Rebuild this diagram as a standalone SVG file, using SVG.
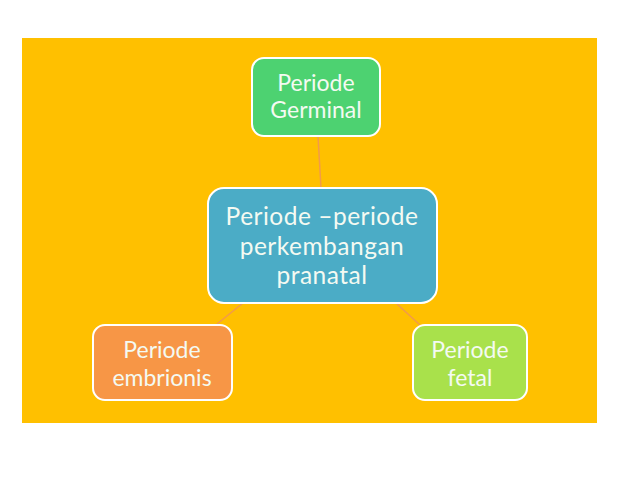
<svg xmlns="http://www.w3.org/2000/svg" width="638" height="478" viewBox="0 0 638 478">
<style>
.node{stroke:#fff;stroke-width:2}
.t{font-family:"Lato","Open Sans","Liberation Sans",sans-serif;fill:#F4FAF2;text-anchor:middle}
.s{font-size:23px}
.b{font-size:24.5px;letter-spacing:0.5px}
.c{stroke:#F29A4A;stroke-width:1.5;fill:none}
</style>
<rect x="0" y="0" width="638" height="478" fill="#fff"/>
<rect x="22" y="38" width="575" height="385" fill="#FFC000"/>
<g id="connectors">
<line class="c" x1="318" y1="136" x2="321" y2="188"/>
<line class="c" x1="243" y1="303" x2="217" y2="324"/>
<line class="c" x1="397" y1="304" x2="420" y2="325"/>
</g>
<g id="germinal">
<rect class="node" x="252" y="58" width="128" height="78" rx="12" fill="#4DD271"/>
<text class="t s" x="316" y="91">Periode</text>
<text class="t s" x="316" y="118">Germinal</text>
</g>
<g id="pranatal">
<rect class="node" x="208" y="188" width="229" height="115" rx="16" fill="#4BACC6"/>
<text class="t b" x="322" y="225">Periode –periode</text>
<text class="t b" x="322" y="254.5">perkembangan</text>
<text class="t b" x="322" y="284">pranatal</text>
</g>
<g id="embrionis">
<rect class="node" x="93" y="325" width="139" height="75" rx="12" fill="#F79646"/>
<text class="t s" x="162" y="358">Periode</text>
<text class="t s" x="162" y="386">embrionis</text>
</g>
<g id="fetal">
<rect class="node" x="413" y="325" width="114" height="75" rx="12" fill="#A9E14B"/>
<text class="t s" x="470" y="358">Periode</text>
<text class="t s" x="470" y="386">fetal</text>
</g>
</svg>
